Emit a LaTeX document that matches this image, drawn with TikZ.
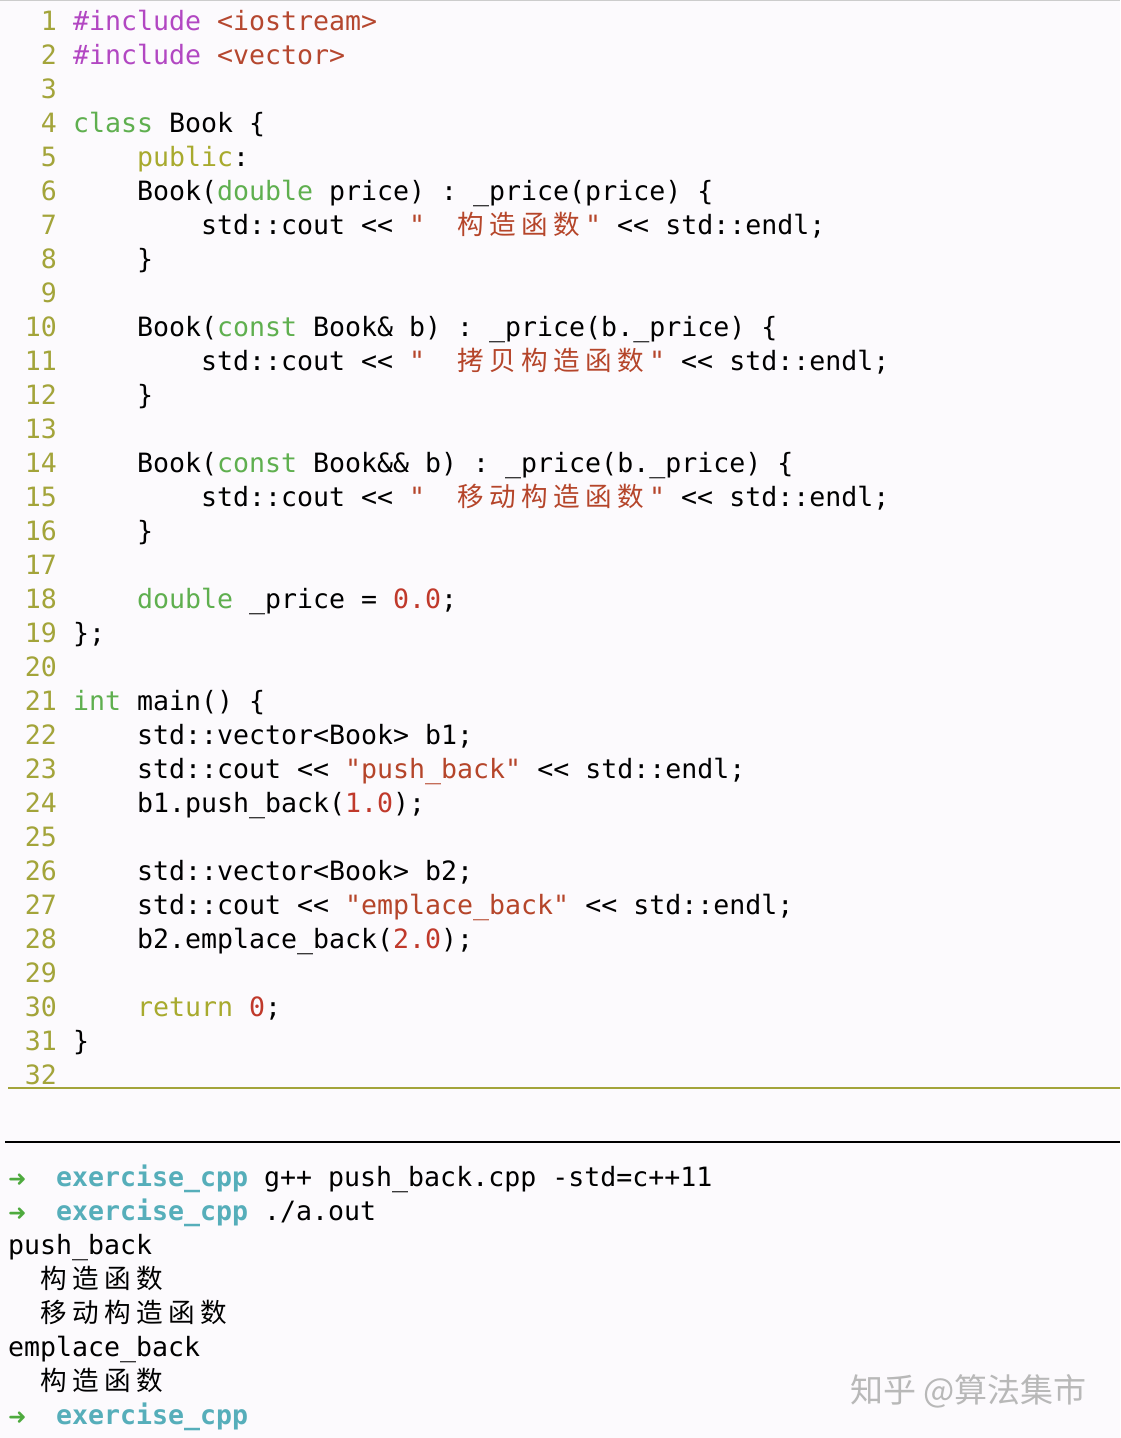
\documentclass[tikz,border=0pt]{standalone}
\usepackage{fontspec}
\setmonofont{DejaVu Sans Mono}[Scale=1.0]
\newfontfamily\cjk{Noto Sans CJK SC}
\newfontfamily\dvs{DejaVu Sans}
\definecolor{bg}{HTML}{FCFAFD}
\definecolor{lnum}{HTML}{A3A43A}
\definecolor{macro}{HTML}{B247C2}
\definecolor{path}{HTML}{B5472F}
\definecolor{kw}{HTML}{5FAF4F}
\definecolor{kw2}{HTML}{A8AA2E}
\definecolor{str}{HTML}{B5452A}
\definecolor{num}{HTML}{C0392B}
\definecolor{cyanb}{HTML}{56AEBA}
\definecolor{arr}{HTML}{4EAA3E}
\newcommand\cs[1]{\makebox[32pt][l]{\cjk #1}}
\newcommand\Kw[1]{\textcolor{kw}{#1}}
\newcommand\KKw[1]{\textcolor{kw2}{#1}}
\newcommand\Sx[1]{\textcolor{str}{#1}}
\newcommand\Nx[1]{\textcolor{num}{#1}}
\tikzset{code/.style={anchor=base west,inner sep=0pt,font=\fontsize{26.58}{30}\ttfamily},
lnm/.style={anchor=base east,inner sep=0pt,font=\fontsize{26.58}{30}\ttfamily,text=lnum}}
\newcommand\CL[3]{\node[code] (c#1) at ({73+16*#2},{30+34*(#1-1)}) {#3};}
\newcommand\TL[2]{\node[code] (t#1) at (8,{1186+34*(#1-1)}) {#2};}
\newcommand\PR{\makebox[16pt][l]{\textcolor{arr}{\dvs\fontsize{22}{24}\selectfont ➜}}~~\textcolor{cyanb}{\bfseries exercise\_cpp}}
\begin{document}
\begin{tikzpicture}[x=1pt,y=-1pt]
\fill[bg] (0,0) rectangle (1120,1438);
\useasboundingbox (0,0) rectangle (1120,1438);
\draw[gray!40,line width=1pt] (0,0.5) -- (1120,0.5);
\foreach \n in {1,...,32}{\node[lnm] (ln\n) at (57,{30+34*(\n-1)}) {\n};}
\CL{1}{0}{\textcolor{macro}{\#include} \textcolor{path}{<iostream>}}
\CL{2}{0}{\textcolor{macro}{\#include} \textcolor{path}{<vector>}}
\CL{4}{0}{\Kw{class} Book \{}
\CL{5}{4}{\KKw{public}:}
\CL{6}{4}{Book(\Kw{double} price) : \_price(price) \{}
\CL{7}{8}{std::cout << \Sx{"~~\cs{构}\cs{造}\cs{函}\cs{数}"} << std::endl;}
\CL{8}{4}{\}}
\CL{10}{4}{Book(\Kw{const} Book\& b) : \_price(b.\_price) \{}
\CL{11}{8}{std::cout << \Sx{"~~\cs{拷}\cs{贝}\cs{构}\cs{造}\cs{函}\cs{数}"} << std::endl;}
\CL{12}{4}{\}}
\CL{14}{4}{Book(\Kw{const} Book\&\& b) : \_price(b.\_price) \{}
\CL{15}{8}{std::cout << \Sx{"~~\cs{移}\cs{动}\cs{构}\cs{造}\cs{函}\cs{数}"} << std::endl;}
\CL{16}{4}{\}}
\CL{18}{4}{\Kw{double} \_price = \Nx{0.0};}
\CL{19}{0}{\};}
\CL{21}{0}{\Kw{int} main() \{}
\CL{22}{4}{std::vector<Book> b1;}
\CL{23}{4}{std::cout << \Sx{"push\_back"} << std::endl;}
\CL{24}{4}{b1.push\_back(\Nx{1.0});}
\CL{26}{4}{std::vector<Book> b2;}
\CL{27}{4}{std::cout << \Sx{"emplace\_back"} << std::endl;}
\CL{28}{4}{b2.emplace\_back(\Nx{2.0});}
\CL{30}{4}{\KKw{return} \Nx{0};}
\CL{31}{0}{\}}
\coordinate (s1) at (8,1088); \coordinate (s2) at (1120,1088);
\draw[lnum,line width=2pt] (s1) -- (s2);
\coordinate (u1) at (5,1142); \coordinate (u2) at (1120,1142);
\draw[black,line width=2.2pt] (u1) -- (u2);
\TL{1}{\PR{} g++ push\_back.cpp -std=c++11}
\TL{2}{\PR{} ./a.out}
\TL{3}{push\_back}
\TL{4}{~~\cs{构}\cs{造}\cs{函}\cs{数}}
\TL{5}{~~\cs{移}\cs{动}\cs{构}\cs{造}\cs{函}\cs{数}}
\TL{6}{emplace\_back}
\TL{7}{~~\cs{构}\cs{造}\cs{函}\cs{数}}
\TL{8}{\PR}
\node[anchor=base west,inner sep=0pt,text=black!28,font=\fontsize{33}{35}\cjk] (wm) at (850,1402) {知乎 @算法集市};
\end{tikzpicture}
\end{document}
